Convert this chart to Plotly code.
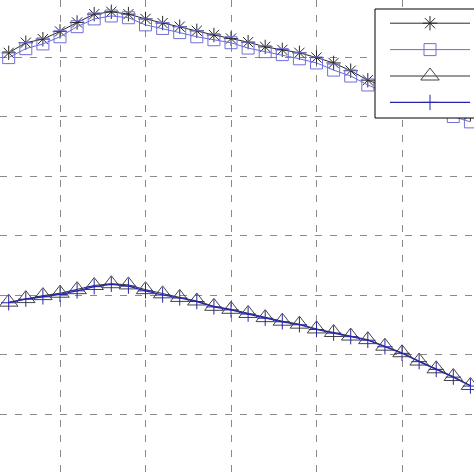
import plotly.graph_objects as go

x_vals = list(range(7, 35))

star_vals = [6.07, 6.24, 6.30, 6.43, 6.58, 6.72, 6.76, 6.72, 6.64, 6.57,
             6.51, 6.44, 6.37, 6.31, 6.25, 6.17, 6.12, 6.07, 5.99, 5.90,
             5.77, 5.61, 5.50, 5.39, 5.29, 5.21, 5.13, 5.04]

square_vals = [5.99, 6.14, 6.22, 6.34, 6.51, 6.64, 6.69, 6.66, 6.54, 6.48,
               6.41, 6.34, 6.29, 6.24, 6.15, 6.09, 6.04, 5.97, 5.90, 5.78,
               5.68, 5.53, 5.41, 5.29, 5.19, 5.09, 5.00, 4.91]

triangle_vals = [1.88, 1.94, 1.99, 2.03, 2.09, 2.16, 2.19, 2.17, 2.09, 2.02,
                 1.96, 1.90, 1.81, 1.76, 1.69, 1.62, 1.56, 1.51, 1.43, 1.37,
                 1.31, 1.25, 1.14, 1.03, 0.89, 0.76, 0.63, 0.48]

plus_vals = [1.87, 1.93, 1.97, 2.01, 2.07, 2.14, 2.18, 2.15, 2.07, 2.00,
             1.95, 1.89, 1.80, 1.75, 1.68, 1.61, 1.55, 1.50, 1.42, 1.36,
             1.30, 1.24, 1.13, 1.02, 0.88, 0.75, 0.62, 0.47]

x_ticks = [10, 15, 20, 25, 30]
y_ticks = [0, 1, 2, 3, 4, 5, 6]

pad = "\u00a0" * 30

fig = go.Figure()
fig.add_trace(go.Scatter(x=x_vals, y=star_vals, mode="lines+markers", name=pad,
                         line=dict(color="#2a2a2a", width=1),
                         marker=dict(symbol="asterisk-open", size=12,
                                     line=dict(color="#2a2a2a", width=1))))
fig.add_trace(go.Scatter(x=x_vals, y=square_vals, mode="lines+markers", name=pad,
                         line=dict(color="#6a6ae0", width=1),
                         marker=dict(symbol="square-open", size=12,
                                     color="#7070d8", line=dict(width=1))))
fig.add_trace(go.Scatter(x=x_vals, y=triangle_vals, mode="lines+markers", name=pad,
                         line=dict(color="#333333", width=1),
                         marker=dict(symbol="triangle-up-open", size=16,
                                     color="#444444", line=dict(width=1))))
fig.add_trace(go.Scatter(x=x_vals, y=plus_vals, mode="lines+markers", name=pad,
                         line=dict(color="#2626a8", width=1.2),
                         marker=dict(symbol="cross-thin-open", size=11,
                                     line=dict(color="#3a3ac0", width=1))))

grid = dict(showgrid=True, gridcolor="#8a8a8a", gridwidth=1, griddash="7px,8px",
            zeroline=False, showticklabels=False, ticks="", showline=False)

fig.update_xaxes(range=[6.491, 34.21], tickmode="array", tickvals=x_ticks, **grid)
fig.update_yaxes(range=[-1.008, 6.958], tickmode="array", tickvals=y_ticks, **grid)

# legend frame
fig.add_shape(type="rect", xref="paper", yref="paper",
              x0=375 / 474, x1=1.1, y0=1 - 118 / 474, y1=1 - 9 / 474,
              fillcolor="white", line=dict(color="black", width=1), layer="above")

fig.update_layout(
    width=474, height=474,
    margin=dict(l=0, r=0, t=0, b=0, autoexpand=False),
    plot_bgcolor="white", paper_bgcolor="white",
    showlegend=True,
    legend=dict(x=385 / 474, y=1 - 5 / 474, xanchor="left", yanchor="top",
                bgcolor="rgba(0,0,0,0)", borderwidth=0,
                font=dict(family="DejaVu Sans", size=18, color="black"),
                itemwidth=80, tracegroupgap=0),
)

fig.write_html("out.html",
               config={"displayModeBar": False},
               post_script="document.body.style.margin='0';document.body.style.padding='0';")
